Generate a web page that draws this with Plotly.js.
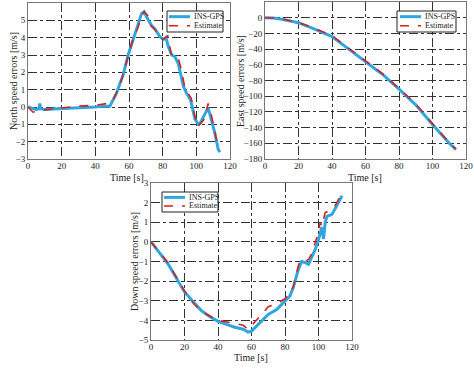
<!DOCTYPE html>
<html><head><meta charset="utf-8">
<script src="https://cdn.plot.ly/plotly-3.0.1.min.js"></script>
<style>html,body{margin:0;padding:0;background:#fff}#c{width:474px;height:372px}</style>
</head><body><div id="c"></div>
<script>
// North speed errors
const tNorthIns = [0,2,5,6.5,7,7.5,10,15,20,30,40,46,48.6,52.6,56.5,59.5,62.5,65.5,67.5,69,70.4,73.4,75.4,78.4,80.4,82,83.3,85.3,87.3,89.3,92.3,94.2,96.6,99.2,101.2,102.2,104,107,108,111,113,114];
const northIns = [0,-0.05,-0.15,-0.1,0.2,-0.1,-0.15,-0.12,-0.1,-0.05,0,0.05,0.05,0.8,1.85,3.0,3.85,4.7,5.4,5.5,5.2,4.7,4.5,4.05,3.9,4.0,3.5,3.0,2.9,2.5,1.2,0.8,0.4,-0.7,-1.0,-0.95,-0.6,-0.05,-0.4,-1.5,-2.45,-2.6];
const tNorthEst = [0,3,7,15,20,30,40,47,50,53,56,59,62,65,67,69,71,73,76,78,80,83,84,85,87,89,91,93,95,97,99,101,102,104,105,107,109,111,113];
const northEst = [0,-0.3,-0.2,-0.1,-0.05,0.05,0.1,0.2,0.3,0.9,1.7,2.8,3.8,4.5,5.1,5.5,5.3,4.7,4.4,4.1,3.9,4.1,3.5,3.1,2.9,2.9,2.2,1.2,0.8,0.5,-0.5,-1.15,-1.0,-0.8,-0.6,0.2,-0.5,-1.5,-2.4];
// East speed errors
const tEast = [0,5,10,20,30,40,50,60,70,80,90,100,110,114];
const eastIns = [0,-0.5,-2,-6.4,-15,-24,-40,-56,-72,-91,-111,-136,-160,-168];
const eastEst = [0,-0.4,-1.8,-6.0,-14,-23,-39,-55,-71,-90,-110,-135,-159,-167];
// Down speed errors
const tDownIns = [0,10,20,30,35,40,45,50,55,58,60,63,65,70,75,80,83,85,88,90,92,94,96,98,100,102,103,104,105,108,110,112,114];
const downIns = [0,-1.1,-2.55,-3.5,-3.8,-4.05,-4.2,-4.35,-4.45,-4.6,-4.55,-4.3,-4.1,-3.7,-3.45,-3.0,-2.75,-2.3,-1.4,-1.0,-1.05,-1.15,-0.8,-0.4,0.1,0.75,0.15,1.0,1.3,1.4,1.7,2.0,2.35];
const tDownEst = [0,10,20,25,30,40,50,55,58,62,65,70,75,80,85,88,89,92,94,96,98,100,101,102,104,106,110,114];
const downEst = [0,-1.05,-2.5,-3.1,-3.55,-4.0,-4.15,-4.25,-4.45,-4.1,-3.8,-3.3,-3.15,-2.9,-2.3,-1.2,-0.95,-1.0,-0.9,-0.6,0,0.5,1.0,0.8,1.5,1.55,1.85,2.5];

const xTicks = [0,20,40,60,80,100,120];
const seriesNames = ['INS-GPS','Estimate'];
const yTitles = ['North speed errors [m/s]','East speed errors [m/s]','Down speed errors [m/s]'];
const xTitle = 'Time [s]';

const blue = '#2fa6df', red = '#d42222';
const F = 'Liberation Serif, Times New Roman, serif';
const W = 474, H = 372;
const px = v => v / W, py = v => 1 - v / H;

function tr(x,y,xa,ya,isEst){
  return {x:x,y:y,xaxis:xa,yaxis:ya,mode:'lines',showlegend:false,
    line:isEst?{color:red,width:1.6,dash:'dash'}:{color:blue,width:3}};
}
const data = [
  tr(tNorthIns,northIns,'x','y',false),
  tr(tNorthEst,northEst,'x','y',true),
  tr(tEast,eastIns,'x2','y2',false),
  tr(tEast,eastEst,'x2','y2',true),
  tr(tDownIns,downIns,'x3','y3',false),
  tr(tDownEst,downEst,'x3','y3',true)
];
function xa(dom,anchor){
  return {domain:dom,anchor:anchor,range:[0,120],tickvals:xTicks,showgrid:true,gridcolor:'#333',griddash:'dashdot',gridwidth:1,
    zeroline:false,showline:true,mirror:true,linecolor:'#777',linewidth:1,ticks:'',ticklabelstandoff:-2,tickfont:{family:F,size:9,color:'#222'}};
}
function ya(dom,anchor,range,dt){
  return {domain:dom,anchor:anchor,range:range,dtick:dt,showgrid:true,gridcolor:'#333',griddash:'dashdot',gridwidth:1,
    zeroline:false,showline:true,mirror:true,linecolor:'#777',linewidth:1,ticks:'',tickfont:{family:F,size:9,color:'#222'}};
}
const annotations = [];
const shapes = [];
function txt(x,y,text,opts){
  annotations.push(Object.assign({xref:'paper',yref:'paper',x:px(x),y:py(y),text:text,showarrow:false,
    font:{family:F,size:10,color:'#222'},xanchor:'center',yanchor:'middle'},opts||{}));
}
// axis titles
txt(127,177,xTitle); txt(365,177,xTitle); txt(251,357,xTitle);
txt(13,81,yTitles[0],{textangle:-90});
txt(240,81,yTitles[1],{textangle:-90});
txt(134,262,yTitles[2],{textangle:-90});
// legends: [left, top, right, bottom, lineStart, lineEnd, textStart]
function legendBox(l,t,r,b,ls,le,ts){
  shapes.push({type:'rect',xref:'paper',yref:'paper',x0:px(l),x1:px(r),y0:py(b),y1:py(t),line:{color:'#222',width:1},fillcolor:'#fff',layer:'above'});
  const y1 = t + (b - t) * 0.27, y2 = t + (b - t) * 0.7;
  shapes.push({type:'line',xref:'paper',yref:'paper',x0:px(ls),x1:px(le),y0:py(y1),y1:py(y1),line:{color:blue,width:3},layer:'above'});
  shapes.push({type:'line',xref:'paper',yref:'paper',x0:px(ls),x1:px(le),y0:py(y2),y1:py(y2),line:{color:red,width:1.6,dash:'dash'},layer:'above'});
  txt(ts,y1,seriesNames[0],{xanchor:'left',font:{family:F,size:8,color:'#222'}});
  txt(ts,y2,seriesNames[1],{xanchor:'left',font:{family:F,size:8,color:'#222'}});
}
legendBox(167,11,223,32,169,190,192);
legendBox(397,11,456,32,400,421,423);
legendBox(162,192,218,212,164,185,187);

const layout = {
  width:W,height:H,margin:{l:0,r:0,t:0,b:0},paper_bgcolor:'#fff',plot_bgcolor:'#fff',showlegend:false,
  xaxis:xa([px(28),px(230)],'y'),
  yaxis:ya([py(159),py(3)],'x',[-3,6],1),
  xaxis2:xa([px(265),px(466)],'y2'),
  yaxis2:ya([py(159),py(2)],'x2',[-180,20],20),
  xaxis3:xa([px(151),px(352)],'y3'),
  yaxis3:ya([py(340),py(183)],'x3',[-5,3],1),
  annotations:annotations, shapes:shapes
};
Plotly.newPlot('c',data,layout,{displayModeBar:false,staticPlot:true});
</script></body></html>
